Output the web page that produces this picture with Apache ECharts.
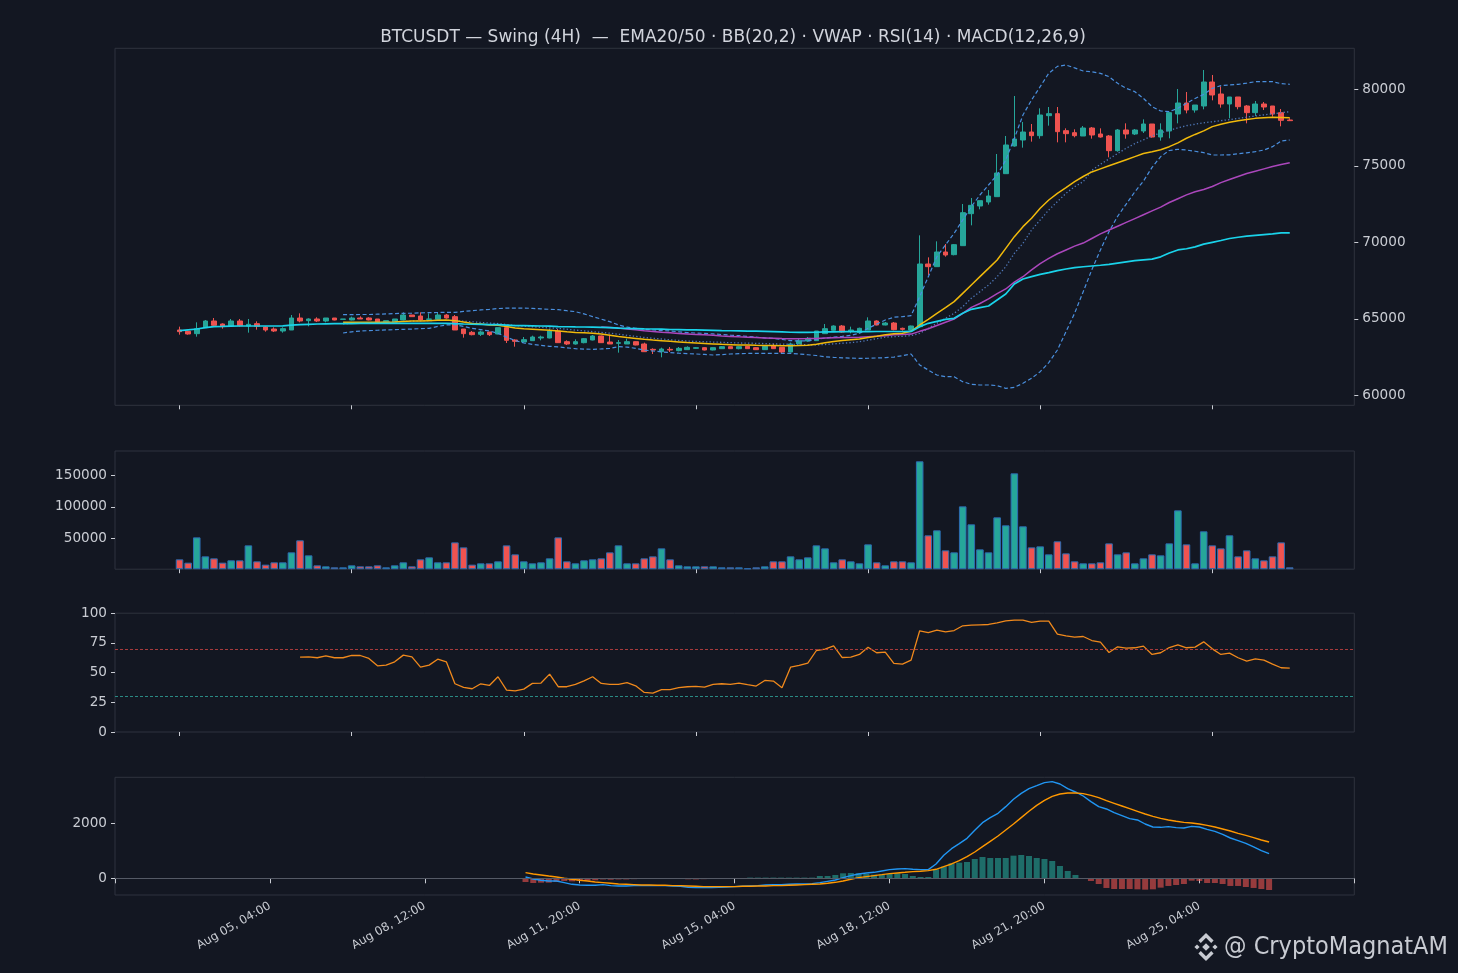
<!DOCTYPE html>
<html><head><meta charset="utf-8">
<script src="https://cdn.jsdelivr.net/npm/echarts@6/dist/echarts.min.js"></script>
<style>html,body{margin:0;padding:0;background:#131722;}#c{width:1458px;height:973px;}</style>
</head><body><div id="c"></div>
<script>
// ---------- data (index 0 = Aug 05 04:00, 4H bars) ----------
const openP = [64268,64181,64028,64420,64856,64660,64529,64856,64529,64682,64464,64333,64203,64268,65052,64878,64987,64856,65052,64965,
64922,65052,65052,64987,64791,64791,64922,65248,65183,64965,64965,65248,65140,64333,64115,63985,64137,64007,64420,63614,
63483,63571,63745,63745,64202,63505,63353,63440,63614,63876,63483,63396,63353,63505,63353,63004,62851,63004,62917,62982,
63069,63113,62960,63047,63178,63047,63200,63113,62982,63244,63135,62829,63353,63549,63571,64028,64246,64529,64202,64093,
64268,64856,64595,64725,64377,64268,64486,68582,68407,69366,69192,69780,71871,72373,72634,72983,74486,76294,76686,77209,
76970,78277,78408,77296,77166,76948,77471,77079,76948,75989,77340,77079,77275,77732,76882,77275,78386,79105,78647,78909,
80477,79693,79039,79497,78909,78473,79039,78909,78473,77994];
const closeP = [64159,64007,64355,64856,64573,64486,64856,64551,64638,64508,64268,64203,64355,65052,64856,64987,64856,65052,64922,64987,
65052,64987,64922,64791,64878,64987,65248,65140,64922,64987,65248,65052,64268,64028,63963,64137,63963,64420,63592,63527,
63636,63810,63810,64202,63440,63353,63505,63701,63876,63440,63353,63440,63505,63287,62851,62960,63026,62960,63069,63135,
63113,62960,63113,63178,63047,63178,63047,62982,63200,63047,62829,63353,63571,63723,64202,64355,64529,64137,64268,64377,
64856,64595,64725,64289,64311,64529,68582,68407,69366,69170,69845,71937,72416,72721,73026,74530,76360,76752,77209,76970,
78320,78408,77231,77100,76970,77471,77013,76882,75989,77340,77079,77340,77732,76882,77340,78473,79105,78647,78974,80477,
79628,79039,79497,78865,78473,79039,78843,78386,77972,77950];
const lowP = [63963,63963,63832,64399,64486,64355,64486,64486,64094,64290,64159,64137,64094,64268,64769,64508,64791,64769,64900,64965,
64900,64987,64900,64769,64791,64791,64900,65140,64878,64900,64900,65010,64268,63767,63919,63876,63876,63985,63418,63178,
63462,63549,63592,63723,63418,63287,63309,63396,63592,63418,63353,62786,63353,63266,62829,62699,62481,62829,62873,62960,
63047,62938,62938,63026,63047,63004,63026,62960,62960,63026,62699,62808,63353,63500,63571,64006,64159,64093,64050,64050,
64268,64573,64573,64246,64224,64246,64486,67863,68407,69061,69148,69780,71109,72155,72460,72983,74486,76251,76185,76578,
76774,77623,76534,76534,76861,76948,76774,76839,75553,75923,76774,77013,77144,76839,76643,76795,77776,78429,78473,78691,
79279,78800,78103,78691,77776,78255,78647,78212,77580,77929];
const highP = [64486,64224,64769,64922,65052,64704,64987,64987,64987,64834,64508,64442,64442,65248,65357,65031,65096,65052,65052,64987,
65140,65161,65096,64987,64878,64987,65423,65248,65423,65357,65423,65314,65248,64333,64203,64224,64137,64420,64442,63658,
63810,63897,63897,64333,64333,63592,63658,63745,63941,63897,63963,63614,63701,63526,63440,63069,63113,63156,63156,63200,
63156,63135,63135,63222,63178,63200,63222,63135,63222,63374,63135,63440,63723,63810,64202,64660,64573,64594,64486,64420,
65096,64900,64790,64790,64420,64551,70455,69017,70063,69889,69889,72503,72895,72721,73418,75771,76948,79562,77862,77732,
78756,78843,78843,77449,77384,77601,77536,77449,77013,77405,77776,77405,78037,77732,77776,78517,80020,79824,78974,81262,
80935,80194,79497,79497,78974,79235,79170,78909,78713,78103];
const volume = [15800,10500,51000,20600,17400,10500,14200,14200,38200,12600,7300,11000,11000,27000,46300,22200,6200,4600,3000,3000,
6200,4600,4600,6200,3000,6200,11000,4600,15800,19000,11000,11000,43000,35000,7300,9400,9400,12600,38200,23800,
12600,9400,11000,17400,51000,12600,9400,14200,15800,17400,27000,38200,9400,9400,17400,20600,33400,15800,6200,4600,
4600,4600,4600,3000,3000,3000,1400,3000,4600,12600,12600,20600,15800,19000,38200,33400,11000,15800,12600,9400,
39800,11000,6200,12600,12600,11000,172900,54300,62300,30200,27000,100700,71900,31800,27000,83100,70300,153600,68700,35000,
36600,23800,44700,25400,12600,9400,9400,11000,41400,23800,27000,9400,17400,23800,22200,41400,94300,39800,9400,60700,
38200,33400,54300,20600,30200,17400,14200,20600,43000,3000];
// indicator lines: first value index given by *Start
const ema20Start = 19;
const ema20 = [64770,64770,64770,64770,64770,64770,64790,64830,64860,64860,64880,64900,64920,64880,64790,64700,64660,64600,64570,64490,
64400,64350,64320,64290,64250,64200,64150,64110,64080,64050,64000,63930,63850,63780,63720,63660,63610,63570,63530,63490,
63450,63420,63390,63360,63330,63310,63290,63280,63265,63255,63250,63245,63245,63250,63265,63330,63440,63520,63580,63630,
63680,63780,63860,63950,64020,64060,64180,64595,64965,65357,65727,66120,66664,67209,67754,68298,68843,69606,70368,71022,
71567,72220,72765,73200,73571,73963,74300,74600,74800,75000,75200,75400,75600,75800,75920,76050,76250,76500,76800,77050,
77280,77560,77720,77850,77950,78030,78100,78140,78170,78160,78146];
const ema50Start = 49;
const ema50 = [64460,64430,64400,64340,64280,64220,64170,64120,64080,64040,64010,63980,63950,63920,63880,63850,63820,63800,63770,63750,
63730,63710,63700,63700,63705,63720,63740,63760,63770,63780,63790,63830,63860,63890,63950,63980,64000,64180,64350,64560,
64770,64980,65350,65750,66000,66300,66650,66950,67400,67750,68200,68600,68950,69250,69500,69750,69950,70250,70550,70800,
71050,71300,71550,71800,72050,72300,72600,72850,73100,73300,73450,73650,73900,74100,74300,74500,74650,74800,74950,75080,
75200];
const vwap = [64224,64280,64333,64420,64486,64500,64520,64529,64529,64530,64530,64530,64540,64590,64620,64640,64660,64670,64680,64682,
64690,64695,64700,64700,64700,64705,64705,64705,64705,64705,64705,64705,64680,64660,64645,64635,64625,64617,64590,64560,
64550,64540,64530,64515,64490,64480,64470,64465,64460,64440,64420,64390,64370,64355,64340,64333,64320,64300,64290,64280,
64270,64260,64245,64230,64220,64210,64200,64190,64180,64160,64140,64120,64115,64115,64120,64140,64150,64155,64160,64160,
64165,64170,64170,64170,64170,64175,64486,64704,64834,64965,65030,65357,65619,65727,65836,66229,66621,67275,67602,67754,
67906,68015,68146,68255,68342,68400,68450,68500,68560,68640,68720,68800,68850,68900,69050,69300,69500,69580,69700,69880,
70000,70120,70250,70330,70400,70450,70500,70550,70620,70620];
const bbStart = 19;
const bbUpper = [65270,65270,65280,65280,65300,65320,65340,65357,65370,65390,65401,65410,65420,65423,65480,65532,65580,65619,65670,65700,
65700,65700,65680,65650,65620,65597,65530,65466,65320,65140,64980,64813,64600,64450,64377,64320,64268,64230,64202,64150,
64100,64070,64050,64010,63970,63930,63897,63850,63800,63750,63720,63650,63571,63550,63560,63658,63740,63800,63850,63920,
64050,64377,64650,64922,65100,65140,65205,66447,67754,69061,69824,70586,71458,72329,73091,73745,74399,75379,76795,78320,
79301,80173,81050,81500,81588,81400,81196,81150,81044,80826,80390,80063,79846,79410,78865,78582,78538,78756,79083,79400,
79671,80063,80238,80290,80325,80400,80499,80499,80499,80368,80325];
const bbMid = [64670,64700,64730,64750,64770,64790,64810,64830,64850,64870,64880,64900,64900,64880,64840,64800,64760,64720,64690,64620,
64560,64520,64480,64440,64400,64370,64320,64260,64210,64160,64110,64060,63990,63920,63850,63780,63730,63680,63630,63590,
63550,63520,63500,63480,63462,63440,63420,63410,63396,63380,63360,63345,63331,63320,63300,63287,63320,63360,63400,63440,
63500,63600,63700,63800,63832,63860,63900,64050,64377,64704,65030,65357,65793,66338,66773,67209,67754,68407,69279,69932,
70804,71458,72111,72656,73200,73636,73963,74700,75100,75450,75800,76150,76450,76700,76950,77150,77320,77480,77620,77720,
77810,77880,77950,78020,78100,78180,78255,78330,78400,78470,78538];
const bbLower = [64072,64150,64200,64224,64250,64270,64290,64311,64330,64355,64377,64500,64600,64617,64500,64377,64290,64203,64050,63800,
63580,63420,63330,63260,63200,63170,63100,63047,63020,63004,63030,63069,63180,63150,63069,62960,62895,62840,62786,62750,
62720,62699,62670,62634,62660,62700,62721,62735,62742,62742,62742,62742,62742,62700,62650,62600,62520,62481,62450,62430,
62416,62420,62440,62459,62500,62590,62699,61980,61653,61326,61217,61217,60891,60717,60673,60673,60630,60455,60521,60782,
61108,61544,62132,62960,64159,65357,66773,68200,69500,70700,71700,72500,73300,74000,74900,75600,76000,76076,76033,75950,
75859,75706,75706,75720,75793,75850,75924,76030,76250,76621,76686];
const rsiStart = 14;
const rsi = [63.0,63.3,62.5,64.1,62.5,62.5,64.4,64.4,61.9,55.7,56.3,59.1,64.7,63.3,54.6,56.3,61.3,59.1,40.6,37.5,
36.4,40.6,39.2,46.5,35.3,34.7,36.1,40.9,41.2,48.7,38.1,38.1,40.1,43.1,46.5,40.9,40.1,40.1,41.5,38.9,
33.3,32.8,35.6,35.6,37.3,38.1,38.4,37.8,40.1,40.6,40.1,41.2,39.8,38.7,43.4,42.9,37.3,54.6,56.0,58.0,
68.6,69.7,72.5,62.7,63.0,65.3,71.4,66.7,67.2,57.7,57.1,60.5,85.2,83.7,85.7,84.3,85.4,89.4,89.9,90.2,
90.5,91.9,93.6,94.1,94.1,92.2,93.3,93.3,82.3,80.9,79.8,80.4,77.0,75.6,66.9,71.7,70.6,70.9,72.3,65.3,
66.7,71.1,73.4,70.9,71.4,75.9,70.0,65.3,66.4,62.5,59.7,61.6,60.5,57.1,54.1,53.8];
const macdStart = 33;
const macdLine = [48,-25,-73,-97,-97,-158,-219,-243,-255,-255,-231,-267,-279,-279,-267,-267,-267,-267,-267,-279,
-291,-328,-340,-340,-340,-328,-316,-304,-291,-279,-267,-243,-231,-231,-219,-207,-207,-195,-158,-110,
-61,24,97,158,194,218,267,315,340,352,328,315,315,522,837,1080,1262,1456,1748,2027,
2209,2367,2610,2877,3095,3265,3374,3484,3520,3435,3265,3144,2998,2792,2610,2525,2391,2282,2173,2124,
1978,1869,1857,1881,1845,1833,1893,1869,1784,1711,1602,1468,1371,1274,1141,1007,898];
const macdSignal = [206,157,121,84,48,0,-36,-73,-97,-134,-158,-182,-207,-219,-231,-243,-243,-255,-255,-267,
-267,-279,-291,-304,-304,-304,-304,-304,-291,-291,-279,-279,-267,-267,-255,-243,-231,-219,-207,-182,
-146,-97,-36,24,61,97,133,170,194,218,243,255,279,328,425,522,643,789,959,1153,
1347,1541,1760,1978,2209,2440,2658,2840,2986,3071,3107,3107,3083,3022,2937,2828,2731,2634,2537,2440,
2343,2258,2185,2124,2076,2039,2015,1978,1930,1869,1796,1723,1638,1566,1481,1396,1323];
const macdHist = [-134,-170,-158,-158,-134,-97,-110,-97,-85,-73,-40,-50,-40,-40,-30,-25,-20,-20,-15,-15,
-20,-35,-40,-30,-25,-20,-15,-5,0,25,25,25,25,25,25,25,25,25,85,85,
121,182,194,182,158,133,133,158,182,158,85,48,48,328,425,546,570,595,704,777,
740,740,740,825,849,813,740,704,631,449,267,121,0,-97,-207,-352,-389,-389,-389,-401,
-413,-401,-340,-279,-243,-207,-85,-97,-170,-170,-207,-279,-279,-316,-352,-389,-425];
// tick labels
const dateTicks = ['Aug 05, 04:00','Aug 08, 12:00','Aug 11, 20:00','Aug 15, 04:00','Aug 18, 12:00','Aug 21, 20:00','Aug 25, 04:00'];
const priceTicks = [60000,65000,70000,75000,80000];
const volumeTicks = [50000,100000,150000];
const rsiTicks = [0,25,50,75,100];
const macdTicks = [0,2000];
const titleText = 'BTCUSDT \u2014 Swing (4H)  \u2014  EMA20/50 \u00b7 BB(20,2) \u00b7 VWAP \u00b7 RSI(14) \u00b7 MACD(12,26,9)';
const watermark = '@ CryptoMagnatAM';

// ---------- build ----------
const N = closeP.length;
const PADL = 7, PADR = 7;
const topCats = [];
for (let k = -PADL; k < N + PADR; k++) topCats.push(String(k));
const MPADL = 20, MPADR = 140 - (N - 1);
const macdCats = [];
for (let k = -MPADL; k <= 140; k++) macdCats.push(String(k));

const full = (start, arr) => { const out = new Array(N).fill(null); arr.forEach((v, j) => { out[start + j] = v; }); return out; };
const padTop = (arr, e) => [...new Array(PADL).fill(e), ...arr, ...new Array(PADR).fill(e)];
const padMacd = (arr, e) => [...new Array(MPADL).fill(e), ...arr, ...new Array(MPADR).fill(e)];

const UP = '#26a69a', DOWN = '#ef5350';
const UPA = 'rgba(38,166,154,0.6)', DOWNA = 'rgba(239,83,80,0.6)';
const TXT = '#c9ccd3', BORDER = '#2f333e', FONT = 'DejaVu Sans';

const candleData = padTop(openP.map((o, i) => [o, closeP[i], lowP[i], highP[i]]), '-');
const volData = padTop(volume.map((v, i) => ({ value: v, itemStyle: { color: closeP[i] >= openP[i] ? UP : DOWN } })), '-');
const histFull = full(macdStart, macdHist);
const histData = padMacd(histFull.map(h => h === null ? '-' : ({ value: h, itemStyle: { color: h >= 0 ? UPA : DOWNA } })), '-');

const gridsDef = [
  { top: 48.3, height: 357 },
  { top: 451, height: 118.2 },
  { top: 613.2, height: 118.8 },
  { top: 777.3, height: 117.7 }
];
const grid = gridsDef.map(g => ({ left: 115, right: 103.7, top: g.top, height: g.height, show: true, borderColor: BORDER, borderWidth: 1, backgroundColor: 'transparent', containLabel: false }));

const topTickFn = (idx) => { const k = idx - PADL; return k >= 0 && k <= 120 && k % 20 === 0; };
const topX = gi => ({
  type: 'category', gridIndex: gi, data: topCats, boundaryGap: true,
  axisLine: { show: false }, axisLabel: { show: false }, splitLine: { show: false },
  axisTick: { show: true, alignWithLabel: true, length: 4, lineStyle: { color: TXT, width: 1 }, interval: topTickFn }
});
const macdTickFn = (idx) => ((idx - MPADL) % 20) === 0;

const yBase = (gi, min, max, ticks, pos) => ({
  type: 'value', gridIndex: gi, min: min, max: max, position: pos,
  splitLine: { show: false }, axisLine: { show: false },
  axisTick: { show: true, length: 4, lineStyle: { color: TXT, width: 1 }, customValues: ticks },
  axisLabel: { color: TXT, fontFamily: FONT, fontSize: 13.6, margin: 8, customValues: ticks, formatter: v => String(v) }
});

const lineS = (name, data, color, width, type, xi, yi) => ({
  name, type: 'line', xAxisIndex: xi, yAxisIndex: yi, data, showSymbol: false, symbol: 'none',
  connectNulls: false, silent: true, lineStyle: { color, width, type: type || 'solid' }, z: 3
});

const option = {
  backgroundColor: '#131722',
  animation: false,
  textStyle: { fontFamily: FONT },
  grid,
  xAxis: [
    topX(0), topX(1), topX(2),
    {
      type: 'category', gridIndex: 3, data: macdCats, boundaryGap: false,
      axisLine: { show: false }, splitLine: { show: false },
      axisTick: { show: true, length: 5, lineStyle: { color: TXT, width: 1 }, interval: macdTickFn },
      axisLabel: {
        show: true, interval: macdTickFn, rotate: 30, color: TXT, fontFamily: FONT, fontSize: 11.8, margin: 10,
        formatter: v => { const k = +v; return (k >= 0 && k % 20 === 0 && k / 20 < dateTicks.length) ? dateTicks[k / 20] : ''; }
      }
    }
  ],
  yAxis: [
    yBase(0, 59346, 82680, priceTicks, 'right'),
    yBase(1, 0, 189400, volumeTicks, 'left'),
    yBase(2, 0, 100, rsiTicks, 'left'),
    yBase(3, -608, 3679, macdTicks, 'left')
  ],
  series: [
    {
      name: 'candles', type: 'candlestick', xAxisIndex: 0, yAxisIndex: 0, data: candleData, barWidth: '60%', silent: true,
      itemStyle: { color: UP, color0: DOWN, borderColor: UP, borderColor0: DOWN, borderWidth: 1 }
    },
    lineS('BB upper', padTop(full(bbStart, bbUpper), null), '#4a8fde', 1.2, [4, 2.5], 0, 0),
    lineS('BB mid', padTop(full(bbStart, bbMid), null), '#4f78b8', 1.3, [1.3, 2.2], 0, 0),
    lineS('BB lower', padTop(full(bbStart, bbLower), null), '#4a8fde', 1.2, [4, 2.5], 0, 0),
    lineS('EMA50', padTop(full(ema50Start, ema50), null), '#ab47bc', 1.5, 'solid', 0, 0),
    lineS('EMA20', padTop(full(ema20Start, ema20), null), '#f0b90b', 1.5, 'solid', 0, 0),
    lineS('VWAP', padTop(vwap, null), '#1ad3ea', 1.7, 'solid', 0, 0),
    {
      name: 'volume', type: 'bar', xAxisIndex: 1, yAxisIndex: 1, data: volData, barWidth: '88%', silent: true,
      itemStyle: { borderColor: '#2d6cb2', borderWidth: 1 }
    },
    Object.assign(lineS('RSI', padTop(full(rsiStart, rsi), null), '#f0891c', 1.3, 'solid', 2, 2), {
      markLine: {
        silent: true, symbol: 'none', label: { show: false }, animation: false,
        data: [
          { yAxis: 70, lineStyle: { color: '#a83a3c', type: [3, 2], width: 1 } },
          { yAxis: 30, lineStyle: { color: '#2a8a84', type: [3, 2], width: 1 } }
        ]
      }
    }),
    {
      name: 'hist', type: 'bar', xAxisIndex: 3, yAxisIndex: 3, data: histData, barWidth: 6, silent: true,
      markLine: {
        silent: true, symbol: 'none', label: { show: false }, animation: false,
        data: [{ yAxis: 0, lineStyle: { color: '#555a66', type: 'solid', width: 1 } }]
      }
    },
    lineS('MACD', padMacd(full(macdStart, macdLine), null), '#2196f3', 1.4, 'solid', 3, 3),
    lineS('Signal', padMacd(full(macdStart, macdSignal), null), '#ff9800', 1.4, 'solid', 3, 3)
  ],
  graphic: []
};

// title
option.graphic.push({ type: 'text', x: 733, y: 37.5, silent: true,
  style: { text: titleText, fill: '#d1d4dc', font: '17px "DejaVu Sans"', align: 'center', verticalAlign: 'middle' } });
// watermark text
option.graphic.push({ type: 'text', x: 1224, y: 947, silent: true,
  style: { text: watermark, fill: '#c8cbd2', font: '25px "DejaVu Sans Condensed", "DejaVu Sans"', align: 'left', verticalAlign: 'middle' } });
// watermark logo (decoration)
const LX = 1206, LY = 947;
const logoShapes = [
  [[0, -3.8], [3.8, 0], [0, 3.8], [-3.8, 0]],
  [[-9, -2.6], [-6.4, 0], [-9, 2.6], [-11.6, 0]],
  [[9, -2.6], [11.6, 0], [9, 2.6], [6.4, 0]],
  [[0, -14], [7.6, -6.4], [5.2, -4], [0, -9.2], [-5.2, -4], [-7.6, -6.4]],
  [[0, 14], [7.6, 6.4], [5.2, 4], [0, 9.2], [-5.2, 4], [-7.6, 6.4]]
];
logoShapes.forEach(pts => option.graphic.push({ type: 'polygon', silent: true,
  shape: { points: pts.map(p => [LX + p[0], LY + p[1]]) }, style: { fill: '#c8cbd2' } }));

const chart = echarts.init(document.getElementById('c'), null, { renderer: 'canvas', width: 1458, height: 973 });
chart.setOption(option);
</script>
</body></html>
